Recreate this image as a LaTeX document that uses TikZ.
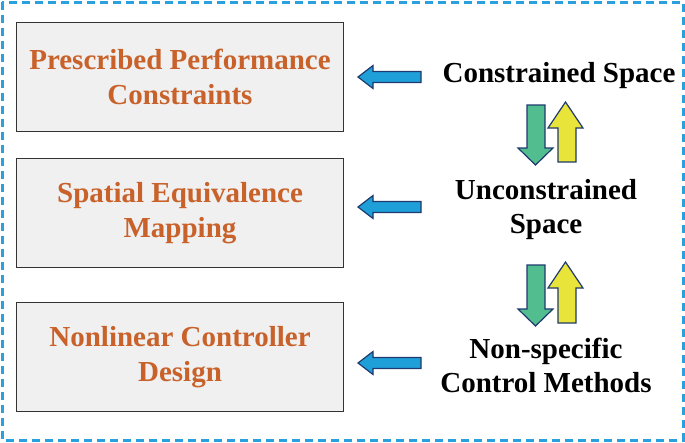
\documentclass[tikz,border=0pt]{standalone}
\usepackage{fontspec}
\setmainfont{Liberation Serif}
\definecolor{dashblue}{HTML}{2AA0DC}
\definecolor{boxfill}{HTML}{F0F0F0}
\definecolor{boxline}{HTML}{333333}
\definecolor{orangetxt}{HTML}{C8622A}
\definecolor{arrblue}{HTML}{1E9FD8}
\definecolor{arrgreen}{HTML}{52BD8F}
\definecolor{arryellow}{HTML}{E8E43A}
\definecolor{arrline}{HTML}{1F3A6E}
\begin{document}
\begin{tikzpicture}[x=1pt,y=-1pt,
  blockbox/.style={draw=boxline,line width=1.6pt,fill=boxfill,minimum width=327pt,minimum height=109pt,
    align=center,text=orangetxt,font=\fontsize{29}{35}\selectfont\bfseries,inner sep=0pt},
  sidetxt/.style={align=center,font=\fontsize{29}{34}\selectfont\bfseries,inner sep=0pt},
  arrowout/.style={draw=arrline,line width=1.2pt,line join=miter}]
\useasboundingbox (0,0) rectangle (685,442);
\draw[dashblue,line width=3pt,dash pattern=on 8pt off 5pt] (2,2) rectangle (683,440);
\node[blockbox] (b1) at (180,77) {Prescribed Performance\\Constraints};
\node[blockbox] (b2) at (180,213) {Spatial Equivalence\\Mapping};
\node[blockbox] (b3) at (180,357) {Nonlinear Controller\\Design};
\node[sidetxt,anchor=base] (t1) at (559,82) {Constrained Space};
\node[sidetxt,anchor=base] (t2) at (546,233) {Unconstrained\\Space};
\node[sidetxt,anchor=base] (t3) at (546,392) {Non-specific\\Control Methods};
% left blue arrows
\foreach \yy in {77,207,363}{
  \filldraw[arrowout,fill=arrblue] (358,\yy) -- (373,\yy-11.5) -- (373,\yy-5.5) -- (421,\yy-5.5)
     -- (421,\yy+5.5) -- (373,\yy+5.5) -- (373,\yy+11.5) -- cycle;
}
% green down / yellow up arrows
\foreach \ty/\tb in {105/165, 265/326}{
  \filldraw[arrowout,fill=arrgreen] (527,\ty) -- (545,\ty) -- (545,\tb-17) -- (553,\tb-17) -- (535.5,\tb)
     -- (518,\tb-17) -- (527,\tb-17) -- cycle;
}
\foreach \tt/\bb in {102/162, 262/323}{
  \filldraw[arrowout,fill=arryellow] (558,\bb) -- (576,\bb) -- (576,\tt+26) -- (583,\tt+26) -- (565.5,\tt)
     -- (548,\tt+26) -- (558,\tt+26) -- cycle;
}
\end{tikzpicture}
\end{document}
